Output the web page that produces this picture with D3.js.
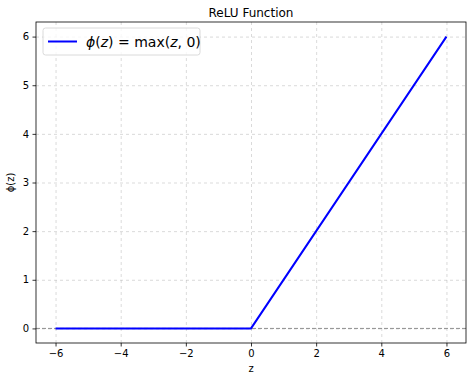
<!DOCTYPE html>
<html>
<head>
<meta charset="utf-8">
<title>ReLU Function</title>
<script src="https://d3js.org/d3.v7.min.js"></script>
<style>
body { margin: 0; background: #fff; }
text { font-family: "DejaVu Sans", sans-serif; }
.grid line { stroke: #b0b0b0; stroke-opacity: 0.6; stroke-dasharray: 3,3; stroke-width: 0.8; }
.grid .domain { display: none; }
.axis text { font-size: 10px; fill: #000; }
.axis line { stroke: #000; stroke-width: 0.8; }
.axis .domain { display: none; }
</style>
</head>
<body>
<svg width="474" height="380"></svg>
<script>
// data
var zValues = [-6, -4, -2, 0, 2, 4, 6];
var phiValues = [0, 0, 0, 0, 2, 4, 6];
var xTicks = [-6, -4, -2, 0, 2, 4, 6];
var yTicks = [0, 1, 2, 3, 4, 5, 6];

var svg = d3.select("svg");
var pLeft = 36, pRight = 466, pTop = 22, pBottom = 343;

var x = d3.scaleLinear().domain([-6.6, 6.6]).range([pLeft, pRight]);
var y = d3.scaleLinear().domain([-0.3, 6.3]).range([pBottom, pTop]);

// grid
svg.append("g").attr("class", "grid")
  .attr("transform", "translate(0," + pBottom + ")")
  .call(d3.axisBottom(x).tickValues(xTicks).tickSize(-(pBottom - pTop)).tickFormat(""));
svg.append("g").attr("class", "grid")
  .attr("transform", "translate(" + pLeft + ",0)")
  .call(d3.axisLeft(y).tickValues(yTicks).tickSize(-(pRight - pLeft)).tickFormat(""));

// axhline at 0
svg.append("line")
  .attr("x1", pLeft).attr("x2", pRight)
  .attr("y1", y(0)).attr("y2", y(0))
  .attr("stroke", "#909090").attr("stroke-width", 1)
  .attr("stroke-dasharray", "4,2");

// relu line
var line = d3.line().x(function(d, i) { return x(zValues[i]); }).y(function(d) { return y(d); });
svg.append("path")
  .datum(phiValues)
  .attr("fill", "none")
  .attr("stroke", "#0000ff")
  .attr("stroke-width", 2)
  .attr("d", line);

// axes
var minus = function(d) { return d < 0 ? "\u2212" + Math.abs(d) : d; };
svg.append("g").attr("class", "axis")
  .attr("transform", "translate(0," + pBottom + ")")
  .call(d3.axisBottom(x).tickValues(xTicks).tickSize(3.5).tickPadding(3.5).tickFormat(minus));
svg.append("g").attr("class", "axis")
  .attr("transform", "translate(" + pLeft + ",0)")
  .call(d3.axisLeft(y).tickValues(yTicks).tickSize(3.5).tickPadding(3.5).tickFormat(minus));

svg.append("rect")
  .attr("x", pLeft).attr("y", pTop)
  .attr("width", pRight - pLeft).attr("height", pBottom - pTop)
  .attr("fill", "none").attr("stroke", "#000").attr("stroke-width", 0.8);

// title and labels
svg.append("text").attr("x", (pLeft + pRight) / 2).attr("y", 17)
  .attr("text-anchor", "middle").attr("font-size", 12).text("ReLU Function");
svg.append("text").attr("x", (pLeft + pRight) / 2).attr("y", 372)
  .attr("text-anchor", "middle").attr("font-size", 10).text("z");
svg.append("text")
  .attr("transform", "translate(14," + ((pTop + pBottom) / 2) + ") rotate(-90)")
  .attr("text-anchor", "middle").attr("font-size", 10).text("\u03D5(z)");

// legend
var lg = svg.append("g");
lg.append("rect").attr("x", 43).attr("y", 28).attr("width", 157).attr("height", 27)
  .attr("rx", 2.5).attr("fill", "#fff").attr("fill-opacity", 0.8)
  .attr("stroke", "#d0d0d0").attr("stroke-width", 0.8);
lg.append("line").attr("x1", 48).attr("x2", 77).attr("y1", 41.5).attr("y2", 41.5)
  .attr("stroke", "#0000ff").attr("stroke-width", 2);
var lt = lg.append("text").attr("x", 86).attr("y", 47).attr("font-size", 14);
lt.append("tspan").attr("font-style", "italic").text("\u03D5");
lt.append("tspan").text("(");
lt.append("tspan").attr("font-style", "italic").text("z");
lt.append("tspan").text(") = max(");
lt.append("tspan").attr("font-style", "italic").text("z");
lt.append("tspan").text(", 0)");
</script>
</body>
</html>
